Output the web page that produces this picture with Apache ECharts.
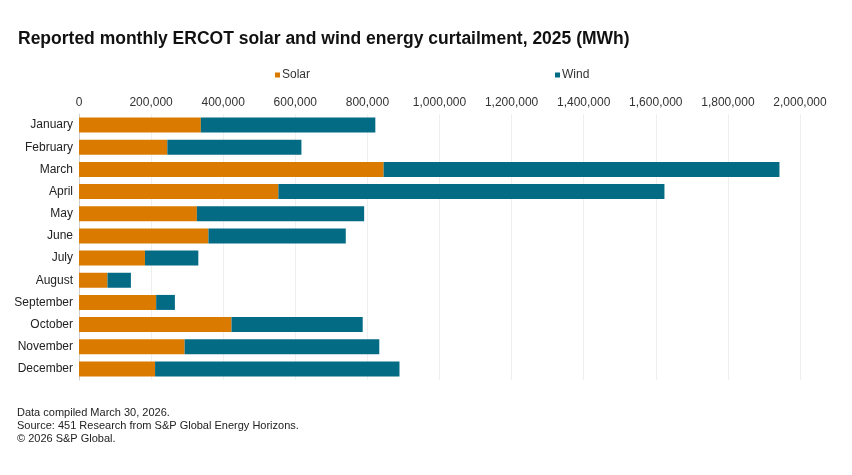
<!DOCTYPE html>
<html>
<head>
<meta charset="utf-8">
<script src="https://cdn.jsdelivr.net/npm/echarts@6/dist/echarts.min.js"></script>
<style>
  html, body { margin: 0; padding: 0; background: #fff; }
  #chart { width: 852px; height: 475px; }
</style>
</head>
<body>
<div id="chart"></div>
<script>
// ──── data (MWh) ────
const months = ['January', 'February', 'March', 'April', 'May', 'June',
  'July', 'August', 'September', 'October', 'November', 'December'];
const solar = [338000, 245000, 845000, 553000, 327000, 359000, 183000, 79000, 214000, 423000, 293000, 211000];
const wind = [484000, 372000, 1098000, 1071000, 464000, 381000, 148000, 65000, 52000, 364000, 540000, 678000];
const xTicks = [0, 200000, 400000, 600000, 800000, 1000000, 1200000, 1400000, 1600000, 1800000, 2000000];

const FONT = '"Liberation Sans", Arial, sans-serif';
const chart = echarts.init(document.getElementById('chart'), null, { renderer: 'canvas' });

chart.setOption({
  animation: false,
  textStyle: { fontFamily: FONT },
  title: {
    text: 'Reported monthly ERCOT solar and wind energy curtailment, 2025 (MWh)',
    left: 18, top: 30, padding: 0,
    textStyle: { fontSize: 17.5, fontWeight: 'bold', color: '#111', fontFamily: FONT },
  },
  graphic: [{
    type: 'text', left: 17, top: 406,
    style: {
      text: 'Data compiled March 30, 2026.\nSource: 451 Research from S&P Global Energy Horizons.\n\u00a9 2026 S&P Global.',
      fontSize: 11, lineHeight: 13, fill: '#222', fontFamily: FONT,
    },
  }],
  legend: {
    top: 64, left: 270,
    itemWidth: 5, itemHeight: 5, itemGap: 245,
    icon: 'rect',
    textStyle: { fontSize: 12, color: '#333', padding: [0, 0, 0, -3] },
    data: ['Solar', 'Wind'],
  },
  grid: { left: 79, right: 52, top: 114, bottom: 95, containLabel: false },
  xAxis: {
    type: 'value', position: 'top',
    min: xTicks[0], max: xTicks[xTicks.length - 1], interval: 200000,
    axisLine: { show: false }, axisTick: { show: false },
    axisLabel: {
      fontSize: 12, color: '#333', margin: 5,
      formatter: v => v.toLocaleString('en-US'),
    },
    splitLine: { lineStyle: { color: '#efefef', width: 1 } },
  },
  yAxis: {
    type: 'category', inverse: true, data: months,
    axisLine: { show: true, lineStyle: { color: '#d0d0d0' } },
    axisTick: { show: false },
    axisLabel: { fontSize: 12, color: '#222', margin: 6 },
  },
  series: [
    { name: 'Solar', type: 'bar', stack: 'total', data: solar, barWidth: 15,
      itemStyle: { color: '#DA7B00' } },
    { name: 'Wind', type: 'bar', stack: 'total', data: wind, barWidth: 15,
      itemStyle: { color: '#046B85' } },
  ],
});
</script>
</body>
</html>
